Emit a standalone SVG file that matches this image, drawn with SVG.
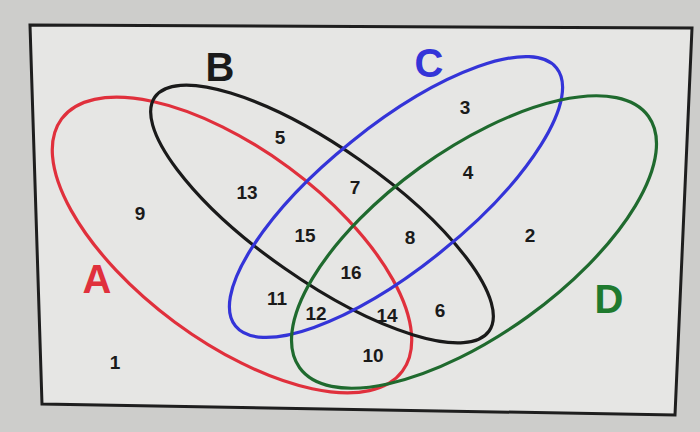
<svg xmlns="http://www.w3.org/2000/svg" width="700" height="432" viewBox="0 0 700 432">
<defs>
<style>
.set{fill:none;stroke-width:3.2}
.num{font-family:"Liberation Sans",Arial,sans-serif;font-weight:bold;font-size:19px;fill:#1a1a1a;text-anchor:middle}
.lbl{font-family:"Liberation Sans",Arial,sans-serif;font-weight:bold;font-size:40px;text-anchor:middle}
</style>
</defs>
<rect x="0" y="0" width="700" height="432" fill="#cdcdcb"/>
<polygon id="frame" points="30,25 692,28 675,415 42,404" fill="#e6e6e4" stroke="#1e1e1e" stroke-width="3"/>
<g id="set-A">
<ellipse class="set" cx="232" cy="245" rx="212" ry="96" transform="rotate(36.5 232 245)" stroke="#e0303c"/>
<text class="lbl" x="97" y="293" fill="#e0303c">A</text>
</g>
<g id="set-B">
<ellipse class="set" cx="322" cy="214" rx="204" ry="66" transform="rotate(35 322 214)" stroke="#1a1a1a"/>
<text class="lbl" x="220" y="81" fill="#1a1a1a">B</text>
</g>
<g id="set-C">
<ellipse class="set" cx="396" cy="197" rx="206" ry="71" transform="rotate(-38.8 396 197)" stroke="#3434d8"/>
<text class="lbl" x="429" y="77" fill="#3434d8">C</text>
</g>
<g id="set-D">
<ellipse class="set" cx="474" cy="242" rx="215" ry="92" transform="rotate(-35.8 474 242)" stroke="#1f6a2e"/>
<text class="lbl" x="609" y="313" fill="#1f7a2e">D</text>
</g>
<g id="numbers">
<text class="num" x="280" y="144">5</text>
<text class="num" x="247" y="199">13</text>
<text class="num" x="140" y="220">9</text>
<text class="num" x="355" y="194">7</text>
<text class="num" x="465" y="114">3</text>
<text class="num" x="468" y="179">4</text>
<text class="num" x="305" y="242">15</text>
<text class="num" x="410" y="244">8</text>
<text class="num" x="530" y="242">2</text>
<text class="num" x="351" y="279">16</text>
<text class="num" x="277" y="305">11</text>
<text class="num" x="316" y="320">12</text>
<text class="num" x="387" y="322">14</text>
<text class="num" x="440" y="317">6</text>
<text class="num" x="373" y="362">10</text>
<text class="num" x="115" y="369">1</text>
</g>
</svg>
